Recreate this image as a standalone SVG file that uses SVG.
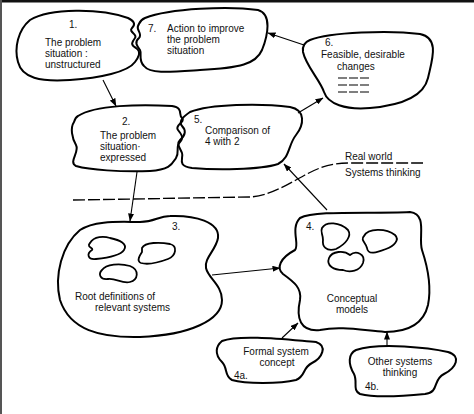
<svg xmlns="http://www.w3.org/2000/svg" width="474" height="414" viewBox="0 0 474 414">
<style>
.blob{fill:none;stroke:#000;stroke-width:2;stroke-linejoin:round;stroke-linecap:round}
.inner{fill:none;stroke:#000;stroke-width:1.8;stroke-linejoin:round}
.conn{fill:none;stroke:#000;stroke-width:1.1}
.dash{fill:none;stroke:#000;stroke-width:1.3;stroke-dasharray:12 3}
.sd{fill:none;stroke:#000;stroke-width:1.2;stroke-dasharray:9 2}
text{font-family:"Liberation Sans",Arial,sans-serif;font-size:10px;fill:#111}
.c{text-anchor:middle}
</style>
<defs>
<marker id="ah" markerWidth="8" markerHeight="6" refX="7.5" refY="3" orient="auto" markerUnits="userSpaceOnUse">
<path d="M0,0 L8,3 L0,6 Z" fill="#000"/>
</marker>
</defs>
<rect width="474" height="414" fill="#fff"/>
<rect x="0" y="0" width="474" height="2.5" fill="#111"/>
<rect x="0" y="0" width="2" height="414" fill="#555"/>

<g id="connectors">
<line class="conn" x1="103" y1="80" x2="116" y2="106" marker-end="url(#ah)"/>
<line class="conn" x1="137" y1="172" x2="130" y2="221" marker-end="url(#ah)"/>
<line class="conn" x1="212" y1="275" x2="280" y2="268" marker-end="url(#ah)"/>
<line class="conn" x1="327" y1="210" x2="284" y2="164" marker-end="url(#ah)"/>
<line class="conn" x1="298" y1="113" x2="323" y2="98" marker-end="url(#ah)"/>
<line class="conn" x1="304" y1="45" x2="268" y2="33" marker-end="url(#ah)"/>
<line class="conn" x1="282" y1="338" x2="298" y2="323" marker-end="url(#ah)"/>
<line class="conn" x1="387" y1="347" x2="387" y2="332" marker-end="url(#ah)"/>
</g>

<g id="boundary">
<path class="dash" d="M73,200 L250,197 C270,196 290,183 305,175 C318,168 330,163 350,163 L423,163"/>
<text x="345" y="160">Real world</text>
<text x="345" y="176">Systems thinking</text>
</g>

<g id="n1">
<path class="blob" d="M30,20 C50,8 100,8 128,18 C134,21 136,24 132,28 C128,32 138,34 135,38 C132,42 130,45 136,48 C142,52 138,58 135,62 C128,72 100,78 70,80 C40,82 22,78 18,62 C14,48 18,30 30,20 Z"/>
<text x="69" y="28">1.</text>
<text x="45" y="46">The problem</text>
<text x="45" y="57">situation :</text>
<text x="45" y="68">unstructured</text>
</g>

<g id="n7">
<path class="blob" d="M145,18 C170,8 230,6 258,10 C272,14 268,35 262,50 C256,64 240,68 200,70 C170,72 150,74 144,66 C138,60 142,54 140,50 C137,46 134,42 139,38 C143,34 136,30 138,26 C140,22 140,20 145,18 Z"/>
<text x="148" y="32">7.</text>
<text x="167" y="32">Action to improve</text>
<text x="167" y="43">the problem</text>
<text x="167" y="54">situation</text>
</g>

<g id="n6">
<path class="blob" d="M310,40 C330,32 390,30 420,34 C440,38 432,60 428,78 C424,95 405,105 370,108 C345,110 328,104 324,92 C320,80 306,66 303,52 C302,45 305,42 310,40 Z"/>
<text x="325" y="46">6.</text>
<text x="321" y="58">Feasible, desirable</text>
<text x="337" y="70">changes</text>
<line class="sd" x1="338" y1="78" x2="370" y2="78"/>
<line class="sd" x1="338" y1="85" x2="370" y2="85"/>
<line class="sd" x1="338" y1="92" x2="370" y2="92"/>
</g>

<g id="n2">
<path class="blob" d="M78,116 C95,105 140,104 172,106 C184,108 178,115 182,118 C186,122 174,125 178,130 C182,135 184,138 180,142 C175,147 180,152 176,158 C172,164 170,170 150,171 C120,172 90,170 76,166 C68,162 80,152 76,145 C72,138 70,128 74,122 C75,119 76,117 78,116 Z"/>
<text x="122" y="125">2.</text>
<text x="100" y="139">The problem</text>
<text x="100" y="150">situation·</text>
<text x="100" y="161">expressed</text>
</g>

<g id="n5">
<path class="blob" d="M190,112 C210,104 260,103 290,107 C306,110 304,125 296,135 C288,145 290,158 278,164 C260,170 215,170 192,168 C176,166 184,158 182,153 C180,148 176,144 180,140 C186,135 186,130 182,126 C178,121 184,116 190,112 Z"/>
<text x="194" y="123">5.</text>
<text x="205" y="134">Comparison of</text>
<text x="205" y="145">4 with 2</text>
</g>

<g id="n3">
<path class="blob" d="M60,300 C54,275 62,245 80,230 C95,220 120,222 140,222 C155,222 158,216 170,216 C195,215 220,222 218,238 C216,250 204,258 206,268 C208,278 222,285 222,300 C222,320 190,335 140,337 C100,338 70,330 60,300 Z"/>
<path class="inner" d="M90,243 C94,236 104,236 110,238 C120,240 128,244 124,250 C120,256 106,258 96,259 C88,260 86,254 92,250 C94,248 86,247 90,243 Z"/>
<path class="inner" d="M142,248 C145,242 160,242 170,244 C178,246 176,256 168,259 C160,262 148,265 141,263 C136,261 140,255 142,252 Z"/>
<path class="inner" d="M102,270 C106,264 120,263 130,266 C140,270 138,280 130,282 C122,284 116,278 108,279 C100,280 98,274 102,270 Z"/>
<text x="172" y="230">3.</text>
<text x="75" y="300">Root definitions of</text>
<text x="95" y="311">relevant systems</text>
</g>

<g id="n4">
<path class="blob" d="M300,218 C315,210 370,214 410,212 C428,214 418,238 422,250 C426,262 432,285 428,305 C424,322 410,332 385,332 C360,330 340,326 320,330 C300,332 296,318 300,300 C302,288 294,282 283,274 C276,268 280,258 295,250 C300,245 290,228 300,218 Z"/>
<path class="inner" d="M322,228 C326,221 340,222 348,230 C352,236 346,244 336,249 C326,252 322,246 323,240 C323,234 320,232 322,228 Z"/>
<path class="inner" d="M364,236 C368,228 386,228 395,235 C400,240 394,246 386,249 C378,252 368,256 367,248 C366,243 360,240 364,236 Z"/>
<path class="inner" d="M329,258 C332,251 344,250 350,255 C356,250 366,254 363,263 C360,271 350,273 343,270 C334,270 326,266 329,258 Z"/>
<text x="306" y="230">4.</text>
<text class="c" x="352" y="302">Conceptual</text>
<text class="c" x="352" y="313">models</text>
</g>

<g id="n4a">
<path class="blob" d="M222,341 C240,334 290,340 316,342 C328,346 322,358 312,363 C302,368 306,376 296,380 C280,384 245,384 232,380 C224,376 228,368 222,362 C214,354 216,346 222,341 Z"/>
<text class="c" x="276" y="355">Formal system</text>
<text class="c" x="277" y="366">concept</text>
<text x="234" y="379">4a.</text>
</g>

<g id="n4b">
<path class="blob" d="M356,350 C380,342 430,348 448,352 C462,356 456,368 444,374 C432,380 440,392 425,394 C405,396 375,398 360,394 C352,390 358,382 354,374 C348,364 348,354 356,350 Z"/>
<text class="c" x="400" y="365">Other systems</text>
<text class="c" x="400" y="376">thinking</text>
<text x="365" y="390">4b.</text>
</g>
</svg>
